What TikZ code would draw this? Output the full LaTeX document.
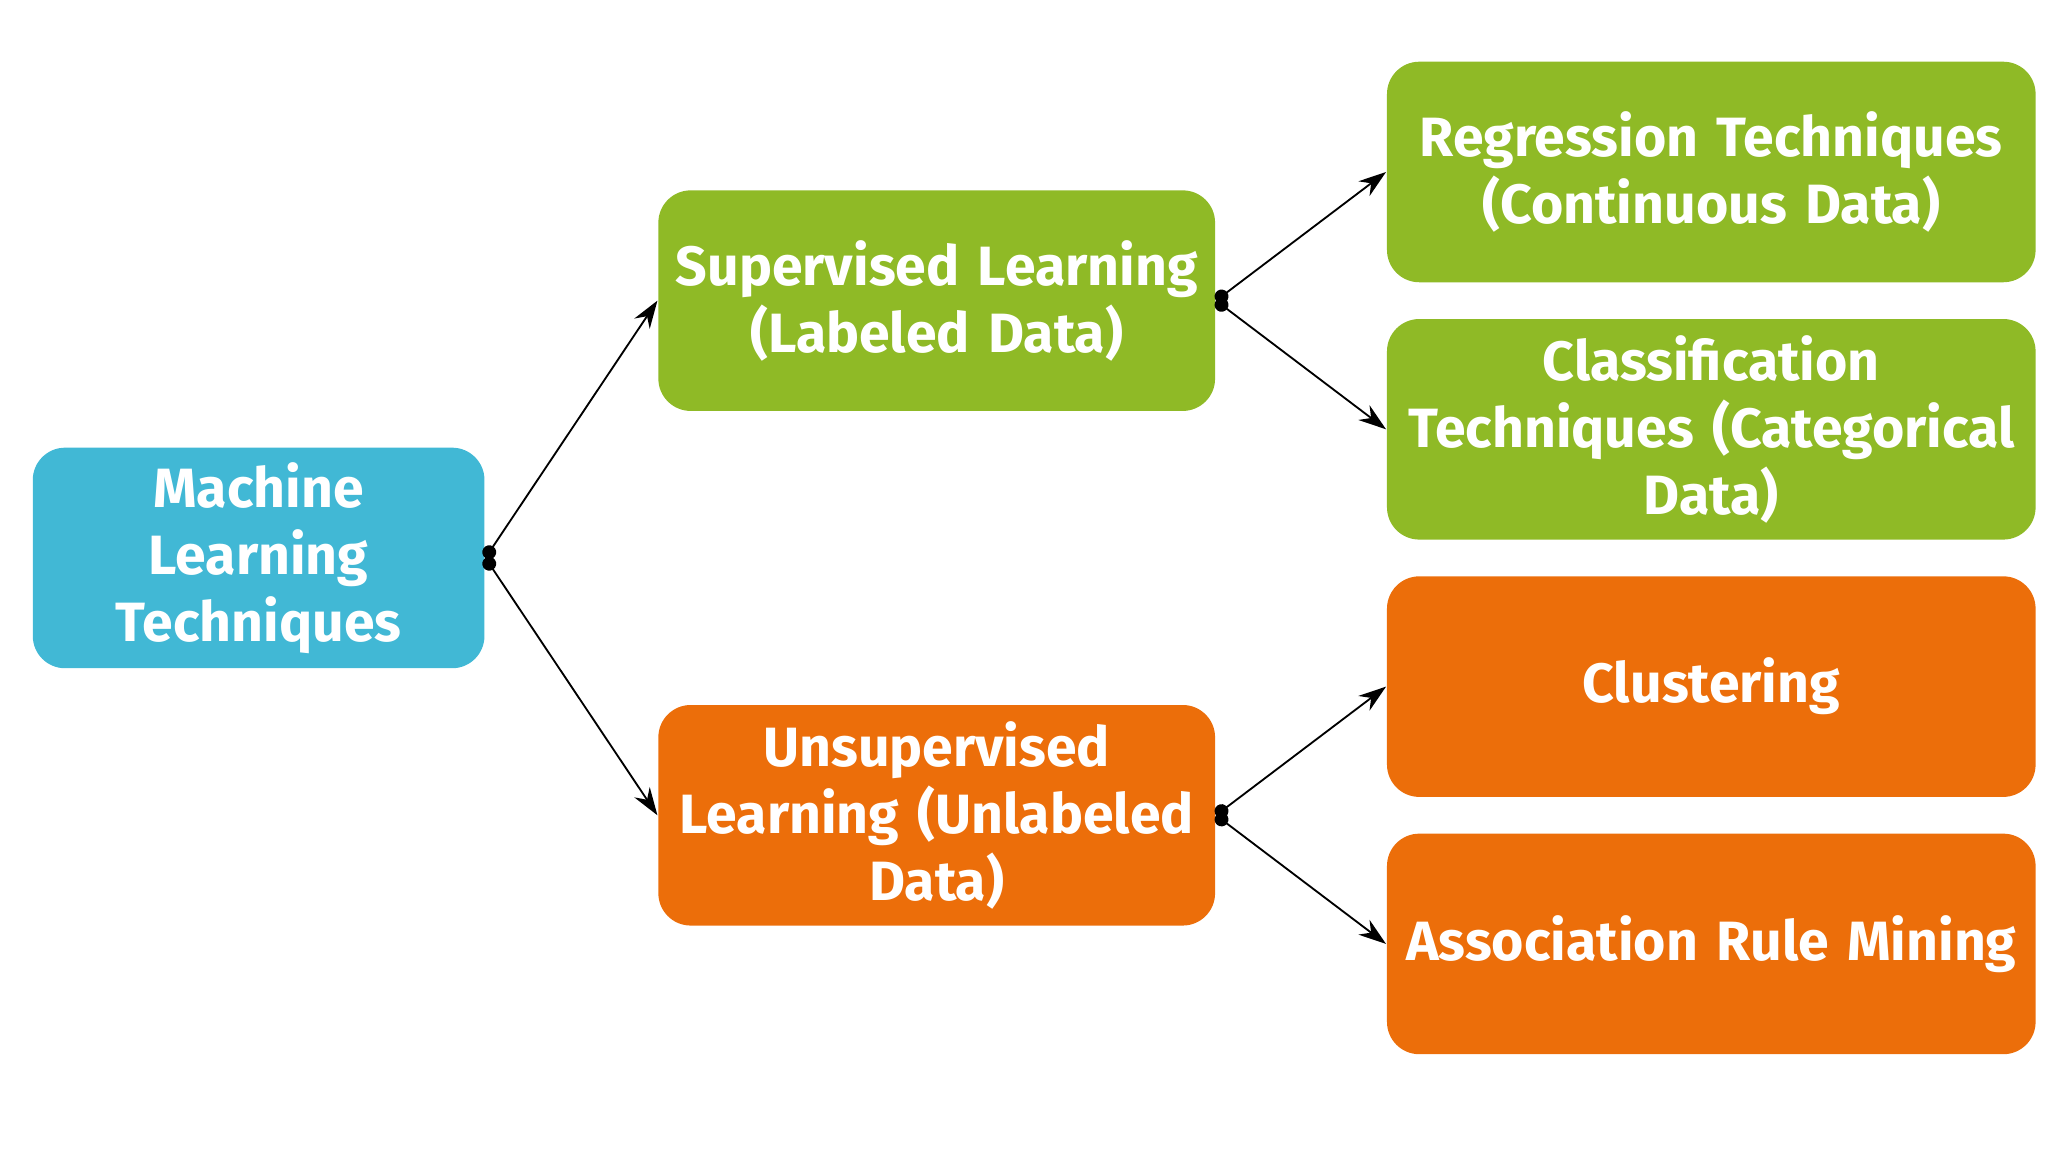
\documentclass[tikz,border=0pt]{standalone}
\usepackage{fontspec}
\setmainfont{Fira Sans}
\usetikzlibrary{arrows.meta,positioning}
\definecolor{mlblue}{HTML}{41B8D5}
\definecolor{mlgreen}{HTML}{8FBA26}
\definecolor{mlorange}{HTML}{EC6E0A}

\begin{document}
\begin{tikzpicture}[
    box/.style={rectangle, rounded corners=7pt, minimum height=1.68cm, align=center, text=white, font=\fontsize{12}{14.5}\selectfont\bfseries, inner sep=2pt},
    arrow/.style={-{Stealth[length=6pt,width=4pt]}, {Circle[length=3pt]}-{Stealth[length=6pt,width=4pt]}, thin}
]
    \useasboundingbox (0,0) rectangle (15.6,-8.775);
    % Root
    \node[box, fill=mlblue, minimum width=3.4cm, text width=3.3cm] (ml) at (1.97,-4.25) {Machine\\Learning\\Techniques};

    % Learning types
    \node[box, fill=mlgreen, minimum width=4.17cm, text width=4.1cm] (sup) at (7.135,-2.29) {Supervised Learning\\(Labeled Data)};
    \node[box, fill=mlorange, minimum width=4.17cm, text width=4.1cm] (unsup) at (7.135,-6.21) {Unsupervised\\Learning (Unlabeled\\Data)};

    % Techniques
    \node[box, fill=mlgreen, minimum width=4.85cm, text width=4.8cm] (reg) at (13.035,-1.31) {Regression Techniques\\(Continuous Data)};
    \node[box, fill=mlgreen, minimum width=4.85cm, text width=4.8cm] (cls) at (13.035,-3.27) {Classification\\Techniques (Categorical\\Data)};
    \node[box, fill=mlorange, minimum width=4.85cm, text width=4.8cm] (clu) at (13.035,-5.23) {Clustering};
    \node[box, fill=mlorange, minimum width=4.85cm, text width=4.8cm] (arm) at (13.035,-7.19) {Association Rule Mining};

    % Arrows
    \draw[arrow] (ml.east) -- (sup.west);
    \draw[arrow] (ml.east) -- (unsup.west);
    \draw[arrow] (sup.east) -- (reg.west);
    \draw[arrow] (sup.east) -- (cls.west);
    \draw[arrow] (unsup.east) -- (clu.west);
    \draw[arrow] (unsup.east) -- (arm.west);
\end{tikzpicture}
\end{document}
